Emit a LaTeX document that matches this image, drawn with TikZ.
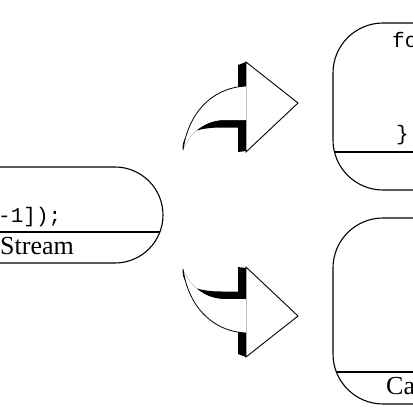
\documentclass[tikz,border=0pt]{standalone}
\usepackage{fontspec}
\setmainfont{Liberation Serif}
\setmonofont{Liberation Mono}
\usetikzlibrary{positioning}
\tikzstyle{boxline} = [line width=1.1pt]
\tikzstyle{codetext} = [font=\ttfamily\fontsize{21}{25}\selectfont, inner sep=0, anchor=base west]
\tikzstyle{titletext} = [font=\fontsize{26}{31}\selectfont, inner sep=0, anchor=base west]
\tikzstyle{darkside} = [fill=black]
\tikzstyle{face} = [fill=white]
\newcommand{\bentarrow}{
    \fill[darkside] (246,62) -- (238,65) -- (238,152) -- (246,151) -- cycle;
    \fill[darkside] (246,120) -- (222,120) .. controls (205,121) and (190,132) .. (183,150)
        .. controls (180,133) and (198,127.5) .. (222,127.5) -- (246,127.5) -- cycle;
    \fill[face] (246,86) -- (246,120) -- (222,120) .. controls (205,121) and (190,132) .. (183,150)
        .. controls (188,115) and (210,88) .. (246,86) -- cycle;
    \draw[line width=0.8pt] (183,150) .. controls (188,115) and (210,88) .. (246,86);
    \fill[face] (246,62) -- (298,103) -- (246,152) -- cycle;
    \draw[line width=0.9pt] (246,86) -- (246,62) -- (298,103) -- (246,152) -- (246,120);
    \draw[gray!50, line width=0.4pt] (246,86) -- (246,120);
}

\begin{document}
\begin{tikzpicture}[x=1pt, y=-1pt]
    \useasboundingbox (0,0) rectangle (412,412);

    % input box
    \draw[boxline, rounded corners=48] (-60,167) -- (163,167) -- (163,263) -- (-60,263);
    \draw[boxline] (-60,232) -- (160,232);
    \node[codetext] (incode) at (-2,222) {-1]);};
    \node[titletext] (intitle) at (0,254) {Stream};

    % upper output box
    \draw[boxline, rounded corners=50] (460,23) -- (333,23) -- (333,190) -- (460,190);
    \draw[boxline] (334.5,152) -- (460,152);
    \node[codetext] (loopcode) at (392,48) {fo};
    \node[codetext] (loopend) at (396,140) {\}};

    % lower output box
    \draw[boxline, rounded corners=50] (460,218) -- (333,218) -- (333,404) -- (460,404);
    \draw[boxline] (336.5,372) -- (460,372);
    \node[titletext] (outtitle) at (386,394) {Ca};

    % bent arrows
    \begin{scope}
        \bentarrow
    \end{scope}
    \begin{scope}[shift={(0,419)}, yscale=-1]
        \bentarrow
    \end{scope}
\end{tikzpicture}
\end{document}
